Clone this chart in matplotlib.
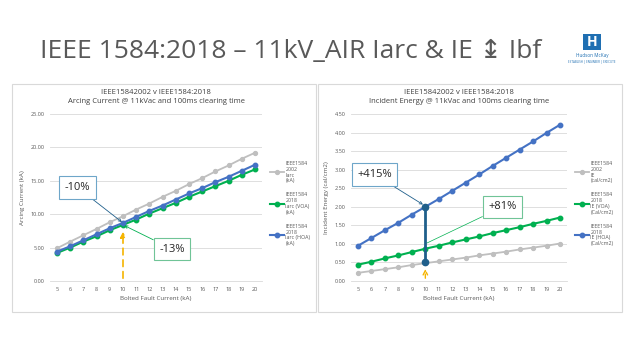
import matplotlib
matplotlib.use("Agg")
import matplotlib.pyplot as plt
from matplotlib.patches import Rectangle

# ---------------- data ----------------
ibf = [5, 6, 7, 8, 9, 10, 11, 12, 13, 14, 15, 16, 17, 18, 19, 20]

iarc_2002 = [4.9, 5.9, 6.85, 7.8, 8.8, 9.7, 10.7, 11.6, 12.6, 13.5, 14.5, 15.4, 16.4, 17.3, 18.3, 19.2]
iarc_voa = [4.2, 5.0, 5.9, 6.7, 7.6, 8.4, 9.2, 10.1, 10.9, 11.7, 12.6, 13.4, 14.2, 15.0, 15.9, 16.7]
iarc_hoa = [4.4, 5.2, 6.1, 7.0, 7.9, 8.7, 9.6, 10.5, 11.3, 12.2, 13.1, 13.9, 14.8, 15.6, 16.5, 17.4]

ie_2002 = [0.22, 0.27, 0.32, 0.37, 0.43, 0.48, 0.53, 0.58, 0.63, 0.69, 0.74, 0.79, 0.85, 0.90, 0.95, 1.01]
ie_voa = [0.44, 0.52, 0.61, 0.69, 0.78, 0.87, 0.95, 1.04, 1.12, 1.20, 1.29, 1.37, 1.45, 1.54, 1.62, 1.71]
ie_hoa = [0.95, 1.16, 1.37, 1.57, 1.79, 2.00, 2.21, 2.43, 2.65, 2.87, 3.10, 3.32, 3.54, 3.76, 3.99, 4.21]

left_ticks = [0, 5, 10, 15, 20, 25]
right_ticks = [0, 0.5, 1.0, 1.5, 2.0, 2.5, 3.0, 3.5, 4.0, 4.5]

left_labels = ["IEEE1584\n2002\nIarc\n(kA)", "IEEE1584\n2018\nIarc (VOA)\n(kA)", "IEEE1584\n2018\nIarc (HOA)\n(kA)"]
right_labels = ["IEEE1584\n2002\nIE\n(cal/cm2)", "IEEE1584\n2018\nIE (VOA)\n(Cal/cm2)", "IEEE1584\n2018\nIE (HOA)\n(Cal/cm2)"]

main_title = "IEEE 1584:2018 \u2013 11kV_AIR Iarc & IE \u21a8 Ibf"
left_title = "IEEE15842002 v IEEE1584:2018\nArcing Current @ 11kVac and 100ms clearing time"
right_title = "IEEE15842002 v IEEE1584:2018\nIncident Energy @ 11kVac and 100ms clearing time"

# ---------------- style ----------------
W, H = 638, 359
GRAY = "#bfbfbf"
GREEN = "#00b050"
BLUE = "#4472c4"
DARKBLUE = "#1f5f8b"
ORANGE = "#f5b400"
TXT = "#595959"

plt.rcParams['font.family'] = ['Open Sans', 'DejaVu Sans', 'Noto Sans', 'Noto Sans CJK SC']

fig = plt.figure(figsize=(W / 100, H / 100), dpi=100)
fig.patch.set_facecolor("white")


def fx(x):
    return x / W


def fy(y):
    return 1 - y / H


def add_ax(x0, x1, y0, y1):
    return fig.add_axes([fx(x0), fy(y1), (x1 - x0) / W, (y1 - y0) / H])


# main title
fig.text(fx(291), fy(52), main_title, ha="center", va="center", fontsize=19,
         color=TXT, family=['Open Sans', 'DejaVu Sans', 'Noto Sans CJK SC', 'Noto Sans'])

# logo
fig.patches.append(Rectangle((fx(583), fy(50)), 18 / W, 16 / H, transform=fig.transFigure,
                             facecolor="#1f6fb2", edgecolor="none"))
fig.text(fx(592), fy(42.5), "H", ha="center", va="center", fontsize=10, color="white",
         fontweight="bold")
fig.text(fx(592), fy(56), "Hudson McKay", ha="center", va="center", fontsize=3.3, color="#1f6fb2")
fig.text(fx(592), fy(62), "ESTABLISH | ENGINEER | EXECUTE", ha="center", va="center",
         fontsize=2.2, color="#1f6fb2")

# panel borders
for (x0, x1) in [(12, 316), (318, 622)]:
    fig.patches.append(Rectangle((fx(x0), fy(312)), (x1 - x0) / W, (312 - 84) / H,
                                 transform=fig.transFigure, facecolor="none",
                                 edgecolor="#d9d9d9", linewidth=0.8))


def style_ax(ax, ylim, yticks, title, ylabel):
    ax.set_xlim(4.5, 20.5)
    ax.set_ylim(*ylim)
    ax.set_yticks(yticks)
    ax.set_yticklabels([f"{t:.2f}" for t in yticks])
    ax.set_xticks(ibf)
    ax.set_xticklabels([str(v) for v in ibf])
    ax.grid(axis="y", color="#d9d9d9", linewidth=0.6)
    ax.set_axisbelow(True)
    for s in ["top", "right", "left"]:
        ax.spines[s].set_visible(False)
    ax.spines["bottom"].set_color("#d9d9d9")
    ax.spines["bottom"].set_linewidth(0.6)
    ax.tick_params(length=0, labelsize=4, colors=TXT, pad=4)
    ax.set_xlabel("Bolted Fault Current (kA)", fontsize=4.5, color=TXT, labelpad=3)
    ax.set_ylabel(ylabel, fontsize=4.5, color=TXT, labelpad=4)
    ax.set_title(title, fontsize=5.5, color="#404040", pad=8, linespacing=1.4)
    ax.patch.set_alpha(0)


# ---------------- left chart ----------------
axL = add_ax(50.4, 261.6, 114, 281)
l1, = axL.plot(ibf, iarc_2002, color=GRAY, lw=1.3, marker="o", ms=2.8)
l2, = axL.plot(ibf, iarc_voa, color=GREEN, lw=1.5, marker="o", ms=3.2)
l3, = axL.plot(ibf, iarc_hoa, color=BLUE, lw=1.5, marker="o", ms=3.2)
style_ax(axL, (0, 25), left_ticks, left_title, "Arcing Current (kA)")

axL.annotate("", xy=(10, iarc_voa[5] - 0.6), xytext=(10, 0),
             arrowprops=dict(arrowstyle="-|>", color=ORANGE, lw=1.2, ls=(0, (4, 3)),
                             mutation_scale=8))

axL.annotate("-10%", xy=(10, iarc_hoa[5]), xytext=(fx(77.5), fy(187.5)),
             textcoords="figure fraction", ha="center", va="center", fontsize=8, color="#262626",
             bbox=dict(boxstyle="square,pad=0.5", fc="white", ec="#6ea6c9", lw=0.8),
             arrowprops=dict(arrowstyle="->", color=DARKBLUE, lw=0.6, shrinkA=0, shrinkB=1,
                             mutation_scale=5))
axL.annotate("-13%", xy=(10, iarc_voa[5]), xytext=(fx(172), fy(249)),
             textcoords="figure fraction", ha="center", va="center", fontsize=8, color="#262626",
             bbox=dict(boxstyle="square,pad=0.5", fc="white", ec="#70c497", lw=0.8),
             arrowprops=dict(arrowstyle="->", color=GREEN, lw=0.6, shrinkA=0, shrinkB=1,
                             mutation_scale=5))

fig.legend([l1, l2, l3], left_labels, loc="upper left", bbox_to_anchor=(fx(270), fy(161)),
           frameon=False, fontsize=3.8, labelcolor=TXT, handlelength=2.6, handletextpad=0.3,
           labelspacing=1.7, borderpad=0, borderaxespad=0)

# ---------------- right chart ----------------
axR = add_ax(351.3, 566.7, 114, 281)
r1, = axR.plot(ibf, ie_2002, color=GRAY, lw=1.3, marker="o", ms=2.8)
r2, = axR.plot(ibf, ie_voa, color=GREEN, lw=1.5, marker="o", ms=3.2)
r3, = axR.plot(ibf, ie_hoa, color=BLUE, lw=1.5, marker="o", ms=3.2)
style_ax(axR, (0, 4.5), right_ticks, right_title, "Incident Energy (cal/cm2)")

axR.plot([10, 10], [0.50, ie_hoa[5]], color=DARKBLUE, lw=2, marker="o", ms=4.5, zorder=5)
axR.annotate("", xy=(10, 0.40), xytext=(10, 0.0),
             arrowprops=dict(arrowstyle="->", color=ORANGE, lw=1.0, ls=(0, (3, 2)),
                             mutation_scale=8))

axR.annotate("+415%", xy=(10, ie_hoa[5] + 0.02), xytext=(fx(374.5), fy(174.5)),
             textcoords="figure fraction", ha="center", va="center", fontsize=8, color="#262626",
             bbox=dict(boxstyle="square,pad=0.5", fc="white", ec="#6ea6c9", lw=0.8),
             arrowprops=dict(arrowstyle="->", color=DARKBLUE, lw=0.6, shrinkA=0, shrinkB=2,
                             mutation_scale=5))
axR.annotate("+81%", xy=(10.1, 1.02), xytext=(fx(502.5), fy(207)),
             textcoords="figure fraction", ha="center", va="center", fontsize=8, color="#262626",
             bbox=dict(boxstyle="square,pad=0.5", fc="white", ec="#70c497", lw=0.8),
             arrowprops=dict(arrowstyle="-", color=GREEN, lw=0.5, shrinkA=0, shrinkB=0))

fig.legend([r1, r2, r3], right_labels, loc="upper left", bbox_to_anchor=(fx(575), fy(161)),
           frameon=False, fontsize=3.8, labelcolor=TXT, handlelength=2.6, handletextpad=0.3,
           labelspacing=1.7, borderpad=0, borderaxespad=0)

fig.savefig("out.png", dpi=100, facecolor="white")
